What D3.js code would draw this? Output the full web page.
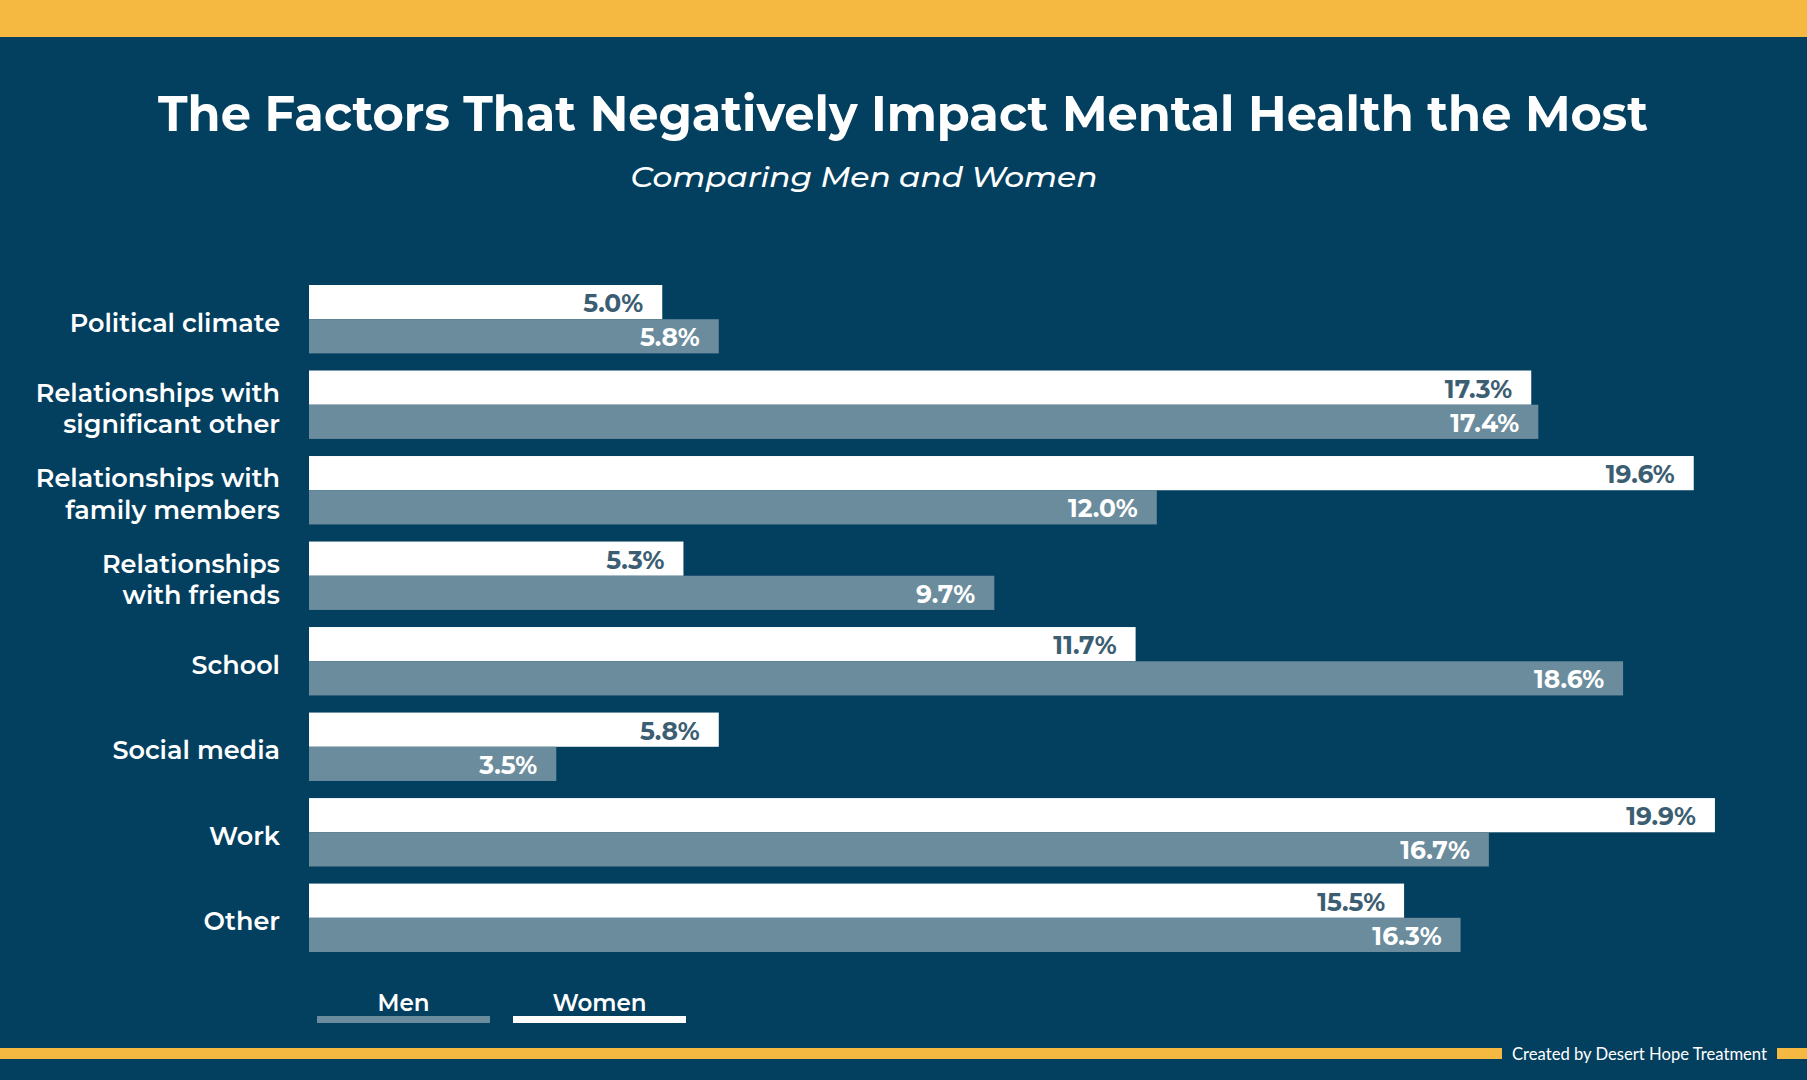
<!DOCTYPE html>
<html>
<head>
<meta charset="utf-8">
<script src="https://cdn.jsdelivr.net/npm/d3@7"></script>
<style>
  body { margin: 0; background: #033f5f; }
  svg { display: block; }
  text { font-family: Montserrat, Inter, "Open Sans", sans-serif; }
</style>
</head>
<body>
<svg></svg>
<script>
var screen = {width: 1807, height: 1080};

var categories = [
    ["Political climate"],
    ["Relationships with", "significant other"],
    ["Relationships with", "family members"],
    ["Relationships", "with friends"],
    ["School"],
    ["Social media"],
    ["Work"],
    ["Other"]
];
var women = [5.0, 17.3, 19.6, 5.3, 11.7, 5.8, 19.9, 15.5];
var men = [5.8, 17.4, 12.0, 9.7, 18.6, 3.5, 16.7, 16.3];
var seriesNames = ["Women", "Men"];

var colors = {bg: "#033f5f", orange: "#f5b841", men: "#6b8c9d", women: "#ffffff", womenText: "#3c5e72"};

var svg = d3.select("svg")
    .attr("width", screen.width)
    .attr("height", screen.height);

svg.append("rect")
    .attr("width", screen.width)
    .attr("height", screen.height)
    .attr("fill", colors.bg);

// top band
svg.append("rect")
    .attr("width", screen.width)
    .attr("height", 37)
    .attr("fill", colors.orange);

svg.append("text")
    .attr("x", 903)
    .attr("y", 131)
    .attr("text-anchor", "middle")
    .attr("fill", "white")
    .attr("font-size", 50)
    .attr("font-weight", 700)
    .attr("textLength", 1490)
    .attr("lengthAdjust", "spacingAndGlyphs")
    .text("The Factors That Negatively Impact Mental Health the Most");

svg.append("text")
    .attr("x", 864)
    .attr("y", 187)
    .attr("text-anchor", "middle")
    .attr("fill", "white")
    .attr("font-size", 27)
    .attr("font-style", "italic")
    .attr("font-weight", 500)
    .attr("textLength", 467)
    .attr("lengthAdjust", "spacingAndGlyphs")
    .text("Comparing Men and Women");

var xScale = d3.scaleLinear()
    .domain([0, 20])
    .range([309, 1722]);

var yScale = d3.scaleBand()
    .domain(d3.range(categories.length))
    .range([285, 952])
    .paddingInner(0.2)
    .paddingOuter(0);

var sub = d3.scaleBand()
    .domain(seriesNames)
    .range([0, yScale.bandwidth()]);

var groups = svg.append("g")
    .selectAll("g")
    .data(categories)
    .enter()
    .append("g")
    .attr("transform", function(d, i) { return "translate(0," + yScale(i) + ")"; });

// category labels
groups.append("text")
    .attr("text-anchor", "end")
    .attr("fill", "white")
    .attr("font-size", 25.5)
    .attr("font-weight", 600)
    .each(function(lines) {
        var mid = yScale.bandwidth() / 2;
        var start = mid + 12.7 - (lines.length - 1) * 15.7;
        d3.select(this).selectAll("tspan")
            .data(lines)
            .enter()
            .append("tspan")
            .attr("x", 280)
            .attr("y", function(l, j) { return start + j * 31.4; })
            .text(function(l) { return l; });
    });

var drawSeries = function(name, values, fill, textFill)
{
    groups.append("rect")
        .attr("x", xScale(0))
        .attr("y", sub(name))
        .attr("width", function(d, i) { return xScale(values[i]) - xScale(0); })
        .attr("height", sub.bandwidth())
        .attr("fill", fill);

    groups.append("text")
        .attr("x", function(d, i) { return xScale(values[i]) - 19; })
        .attr("y", sub(name) + sub.bandwidth() / 2 + 10)
        .attr("text-anchor", "end")
        .attr("fill", textFill)
        .attr("font-size", 25)
        .attr("font-weight", 700)
        .text(function(d, i) { return values[i].toFixed(1) + "%"; });
}

drawSeries("Women", women, colors.women, colors.womenText);
drawSeries("Men", men, colors.men, "white");

// legend
var legend = [
    {name: "Men", x: 317, color: colors.men},
    {name: "Women", x: 513, color: colors.women}
];

var leg = svg.append("g")
    .selectAll("g")
    .data(legend)
    .enter()
    .append("g");

leg.append("rect")
    .attr("x", function(d) { return d.x; })
    .attr("y", 1016)
    .attr("width", 173)
    .attr("height", 7)
    .attr("fill", function(d) { return d.color; });

leg.append("text")
    .attr("x", function(d) { return d.x + 86.5; })
    .attr("y", 1011)
    .attr("text-anchor", "middle")
    .attr("fill", "white")
    .attr("font-size", 23)
    .attr("font-weight", 600)
    .text(function(d) { return d.name; });

// bottom band with credit
svg.append("rect")
    .attr("x", 0)
    .attr("y", 1048)
    .attr("width", 1502)
    .attr("height", 11)
    .attr("fill", colors.orange);

svg.append("rect")
    .attr("x", 1777)
    .attr("y", 1048)
    .attr("width", 30)
    .attr("height", 11)
    .attr("fill", colors.orange);

svg.append("text")
    .attr("x", 1512)
    .attr("y", 1060)
    .attr("fill", "white")
    .attr("font-size", 17)
    .attr("textLength", 255)
    .attr("lengthAdjust", "spacingAndGlyphs")
    .style("font-family", "Lato, sans-serif")
    .text("Created by Desert Hope Treatment");
</script>
</body>
</html>
